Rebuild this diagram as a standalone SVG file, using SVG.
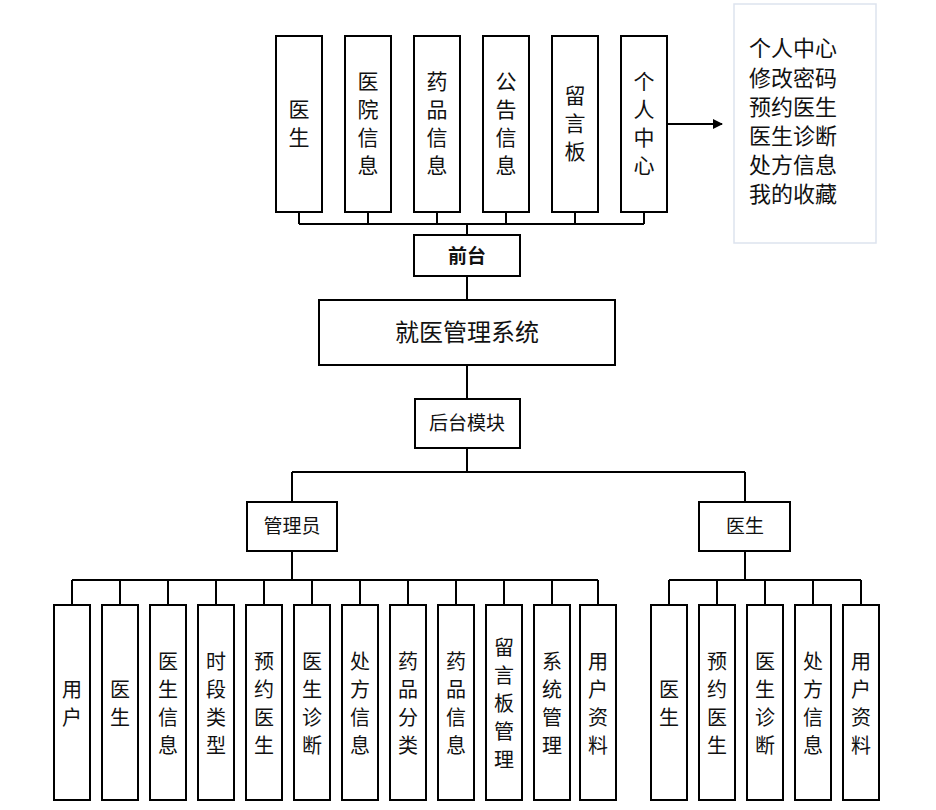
<svg xmlns="http://www.w3.org/2000/svg" width="936" height="810" viewBox="0 0 936 810">
<style>
rect{fill:#fff;stroke:#000;stroke-width:2}
.c{fill:none;stroke:#000;stroke-width:2}
text{font-family:"Noto Sans CJK SC",sans-serif;fill:#111;text-anchor:middle}
.t{font-size:21px}
.b{font-size:20px}
</style>
<defs><marker id="a" markerWidth="10" markerHeight="10" refX="9" refY="5" orient="auto" markerUnits="userSpaceOnUse"><path d="M0,0L10,5L0,10z" fill="#000"/></marker></defs>
<g id="connectors">
<path class="c" d="M299,212V224M368,212V224M437,212V224M506,212V224M575,212V224M644,212V224M299,224H644M467,224V235M467,276V300M467,365V399M467,448V472M292,472H745M292,472V502M745,472V502M292,551V580M745,551V580M72,580H598M72,580V605M120,580V605M168,580V605M216,580V605M264,580V605M312,580V605M360,580V605M408,580V605M456,580V605M504,580V605M552,580V605M598,580V605M669,580H861M669,580V605M717,580V605M765,580V605M813,580V605M861,580V605"/>
<path class="c" d="M668,124H722" marker-end="url(#a)" stroke-width="3"/>
</g>
<g id="top-doctor"><rect x="276" y="36" width="46" height="176"/><text class="t" x="299" y="117">医</text><text class="t" x="299" y="145">生</text></g>
<g id="top-hospital"><rect x="345" y="36" width="46" height="176"/><text class="t" x="368" y="89">医</text><text class="t" x="368" y="117">院</text><text class="t" x="368" y="145">信</text><text class="t" x="368" y="173">息</text></g>
<g id="top-drug"><rect x="414" y="36" width="46" height="176"/><text class="t" x="437" y="89">药</text><text class="t" x="437" y="117">品</text><text class="t" x="437" y="145">信</text><text class="t" x="437" y="173">息</text></g>
<g id="top-notice"><rect x="483" y="36" width="46" height="176"/><text class="t" x="506" y="89">公</text><text class="t" x="506" y="117">告</text><text class="t" x="506" y="145">信</text><text class="t" x="506" y="173">息</text></g>
<g id="top-board"><rect x="552" y="36" width="46" height="176"/><text class="t" x="575" y="103">留</text><text class="t" x="575" y="131">言</text><text class="t" x="575" y="159">板</text></g>
<g id="top-center"><rect x="621" y="36" width="46" height="176"/><text class="t" x="644" y="89">个</text><text class="t" x="644" y="117">人</text><text class="t" x="644" y="145">中</text><text class="t" x="644" y="173">心</text></g>
<g id="center-list"><rect x="734" y="4" width="142" height="239" style="stroke:#dde3ee;stroke-width:1.5"/>
<g style="font-size:22px"><text x="793" y="56">个人中心</text><text x="793" y="86">修改密码</text><text x="793" y="115">预约医生</text><text x="793" y="144">医生诊断</text><text x="793" y="173">处方信息</text><text x="793" y="202">我的收藏</text></g></g>
<g id="front"><rect x="414" y="235" width="106" height="41"/><text x="467" y="263" style="font-size:19px;font-weight:bold">前台</text></g>
<g id="system"><rect x="319" y="300" width="296" height="65"/><text x="467" y="341" style="font-size:24px">就医管理系统</text></g>
<g id="backend"><rect x="415" y="399" width="105" height="49"/><text x="467" y="430" style="font-size:19px">后台模块</text></g>
<g id="admin"><rect x="247" y="502" width="90" height="49"/><text x="292" y="533" style="font-size:19px">管理员</text></g>
<g id="doctor"><rect x="699" y="502" width="91" height="49"/><text x="745" y="533" style="font-size:19px">医生</text></g>
<g class="b">
<g id="a1"><rect x="54" y="605" width="36" height="195"/><text class="b" x="72" y="697">用</text><text class="b" x="72" y="725">户</text></g>
<g id="a2"><rect x="102" y="605" width="36" height="195"/><text class="b" x="120" y="697">医</text><text class="b" x="120" y="725">生</text></g>
<g id="a3"><rect x="150" y="605" width="36" height="195"/><text class="b" x="168" y="669">医</text><text class="b" x="168" y="697">生</text><text class="b" x="168" y="725">信</text><text class="b" x="168" y="753">息</text></g>
<g id="a4"><rect x="198" y="605" width="36" height="195"/><text class="b" x="216" y="669">时</text><text class="b" x="216" y="697">段</text><text class="b" x="216" y="725">类</text><text class="b" x="216" y="753">型</text></g>
<g id="a5"><rect x="246" y="605" width="36" height="195"/><text class="b" x="264" y="669">预</text><text class="b" x="264" y="697">约</text><text class="b" x="264" y="725">医</text><text class="b" x="264" y="753">生</text></g>
<g id="a6"><rect x="294" y="605" width="36" height="195"/><text class="b" x="312" y="669">医</text><text class="b" x="312" y="697">生</text><text class="b" x="312" y="725">诊</text><text class="b" x="312" y="753">断</text></g>
<g id="a7"><rect x="342" y="605" width="36" height="195"/><text class="b" x="360" y="669">处</text><text class="b" x="360" y="697">方</text><text class="b" x="360" y="725">信</text><text class="b" x="360" y="753">息</text></g>
<g id="a8"><rect x="390" y="605" width="36" height="195"/><text class="b" x="408" y="669">药</text><text class="b" x="408" y="697">品</text><text class="b" x="408" y="725">分</text><text class="b" x="408" y="753">类</text></g>
<g id="a9"><rect x="438" y="605" width="36" height="195"/><text class="b" x="456" y="669">药</text><text class="b" x="456" y="697">品</text><text class="b" x="456" y="725">信</text><text class="b" x="456" y="753">息</text></g>
<g id="a10"><rect x="486" y="605" width="36" height="195"/><text class="b" x="504" y="655">留</text><text class="b" x="504" y="683">言</text><text class="b" x="504" y="711">板</text><text class="b" x="504" y="739">管</text><text class="b" x="504" y="767">理</text></g>
<g id="a11"><rect x="534" y="605" width="36" height="195"/><text class="b" x="552" y="669">系</text><text class="b" x="552" y="697">统</text><text class="b" x="552" y="725">管</text><text class="b" x="552" y="753">理</text></g>
<g id="a12"><rect x="580" y="605" width="36" height="195"/><text class="b" x="598" y="669">用</text><text class="b" x="598" y="697">户</text><text class="b" x="598" y="725">资</text><text class="b" x="598" y="753">料</text></g>
<g id="d1"><rect x="651" y="605" width="36" height="195"/><text class="b" x="669" y="697">医</text><text class="b" x="669" y="725">生</text></g>
<g id="d2"><rect x="699" y="605" width="36" height="195"/><text class="b" x="717" y="669">预</text><text class="b" x="717" y="697">约</text><text class="b" x="717" y="725">医</text><text class="b" x="717" y="753">生</text></g>
<g id="d3"><rect x="747" y="605" width="36" height="195"/><text class="b" x="765" y="669">医</text><text class="b" x="765" y="697">生</text><text class="b" x="765" y="725">诊</text><text class="b" x="765" y="753">断</text></g>
<g id="d4"><rect x="795" y="605" width="36" height="195"/><text class="b" x="813" y="669">处</text><text class="b" x="813" y="697">方</text><text class="b" x="813" y="725">信</text><text class="b" x="813" y="753">息</text></g>
<g id="d5"><rect x="843" y="605" width="36" height="195"/><text class="b" x="861" y="669">用</text><text class="b" x="861" y="697">户</text><text class="b" x="861" y="725">资</text><text class="b" x="861" y="753">料</text></g>
</g>
</svg>
